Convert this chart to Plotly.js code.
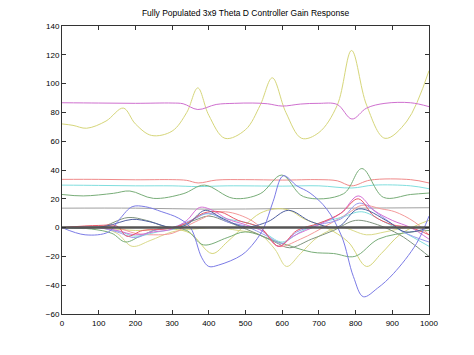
<!DOCTYPE html>
<html><head><meta charset="utf-8">
<script src="https://cdn.plot.ly/plotly-3.0.1.min.js"></script>
<style>html,body{margin:0;padding:0;background:#fff}#chart{width:474px;height:355px}</style>
</head><body><div id="chart"></div>
<script>
// ---- data ----
const yellowHiX = [0,30,67,120,167,200,244,300,340,370,400,444,500,540,573,610,653,700,750,789,830,880,940,1000];
const yellowHiY = [72,71,69,74,83,72,64,67,80,97,78,62,68,85,104,80,62,66,85,123,85,62,74,109];
const magentaHiX = [0,100,200,300,330,370,420,470,520,560,600,650,700,750,790,830,880,950,1000];
const magentaHiY = [86.7,86.5,86.3,86.5,86,82,85.5,86.3,86.5,86,84.4,85.8,86.3,85.5,75.4,83,86.3,86.7,84];
const redHiX = [0,100,200,300,340,371,420,500,600,700,750,789,840,950,1000];
const redHiY = [33.5,33.5,33.2,33.3,32.8,31,33,33.3,33,33.3,32.5,29,33,33.3,31];
const cyanHiX = [0,100,200,300,370,450,600,700,790,850,950,1000];
const cyanHiY = [29.5,29.3,29,29,28.5,29,28.8,29,27.5,29.5,29,27];
const greenHiX = [0,58,140,185,249,330,388,467,540,599,658,767,817,876,950,1000];
const greenHiY = [23,22,23.8,25.4,20.3,23.5,29.5,20.3,23.5,36.5,21.5,23.5,41,21,23,24];
const grayHiX = [0,200,400,600,800,1000];
const grayHiY = [13.5,13.5,12.8,13.2,13.5,13.8];
const blueBigX = [0,63,127,159,191,227,272,318,350,381,400,427,490,525,550,575,603,640,676,721,762,794,821,860,903,966,1000];
const blueBigY = [0,-5,-3,6.5,14.5,14.5,11,6.5,0,-21,-27,-26,-19,-10,0,18,36,29,24,13,-6,-34,-48,-42,-32,-11,8];
const navyX = [0,60,120,191,240,300,340,390,440,500,560,617,680,752,808,890,935,1000];
const navyY = [0,0,1,5.7,4,0,2,12,6,0.5,4,12,4,0.5,13,4,-3,0];
const yellowAX = [0,100,150,191,240,300,360,420,480,540,580,612,650,700,760,830,880,940,1000];
const yellowAY = [0,0,-4,-13,-9,-3,-1,0,-2,-5,-15,-27,-18,-6,0,-5,-3,0,0];
const yellowBX = [0,100,200,300,350,409,450,500,540,580,620,660,720,780,830,870,920,970,1000];
const yellowBY = [0,0,-2,-1,-4,-18,-10,2,10,13,12,6,0,-10,-27,-18,-5,2,5];
const greenLoX = [0,80,136,173,220,280,340,385,450,499,589,680,740,798,862,953,1000];
const greenLoY = [0,-1,-4,-10,-5,0,-2,-12,-7,-3,-10,-17,-18,-20,-8,-3,-2];
const oliveX = [0,100,180,230,300,360,400,450,520,580,620,680,740,800,860,920,960,1000];
const oliveY = [0,0,7,5,0,5,8,4,-3,-10,-14,-8,-2,5,2,-5,-12,-20];
const magentaLoX = [0,100,150,200,250,300,340,375,410,450,500,550,590,630,700,760,807,850,900,950,1000];
const magentaLoY = [0,0,-2,-5,-3,-1,5,14,12,6,2,-3,-13,-6,2,10,22,12,5,0,-8];
const redLoX = [0,100,150,177,220,280,340,385,430,480,540,591,640,700,760,807,850,900,950,1000];
const redLoY = [0,1.5,1,-6,-2,-1,3,10,11,5,0,-13,-2,3,10,20,8,2,0,-5];
const salmonX = [0,100,150,200,250,300,363,436,509,550,589,650,725,780,817,870,907,960,1000];
const salmonY = [0,1,0,-4,-5,-4,4,11,6,-2,-13,-8,2,10,15.5,13,11,4,-5];
const cyanLoX = [0,100,160,200,260,320,390,450,520,560,600,650,700,760,817,870,930,1000];
const cyanLoY = [0,0,-3,-6,-3,0,9.5,6,2,-5,-10,-3,3,7,11,5,-3,-13];
const periX = [0,100,150,200,250,300,360,400,450,500,560,600,640,700,760,810,870,930,1000];
const periY = [0,0,-3,-7,-2,0,6,10,4,1,-6,-11,-3,2,6,17,8,-3,-10];
const zeroX = [0,1000];
const zeroY = [0,0];

const series = [
  [yellowHiX, yellowHiY, '#d6d67a'],
  [magentaHiX, magentaHiY, '#cf70cf'],
  [redHiX, redHiY, '#f08a8a'],
  [cyanHiX, cyanHiY, '#80dede'],
  [greenHiX, greenHiY, '#78ad78'],
  [grayHiX, grayHiY, '#a0a0a0'],
  [yellowAX, yellowAY, '#dada8a'],
  [yellowBX, yellowBY, '#d6d67a'],
  [greenLoX, greenLoY, '#78ad78'],
  [oliveX, oliveY, '#7f947f'],
  [salmonX, salmonY, '#f49a9a'],
  [cyanLoX, cyanLoY, '#80dede'],
  [periX, periY, '#9a9aee'],
  [magentaLoX, magentaLoY, '#d670d6'],
  [redLoX, redLoY, '#e85a6a'],
  [navyX, navyY, '#5060a0'],
  [blueBigX, blueBigY, '#7b7be6']
];

const traces = series.map(s => ({
  x: s[0], y: s[1], type: 'scatter', mode: 'lines',
  line: {color: s[2], width: 1, shape: 'spline', smoothing: 1},
  hoverinfo: 'skip'
}));
traces.push({x: zeroX, y: zeroY, type: 'scatter', mode: 'lines',
  line: {color: '#555555', width: 2.5}, hoverinfo: 'skip'});

const axisCommon = {
  showgrid: false, zeroline: false, showline: true, linecolor: '#333', linewidth: 1,
  mirror: 'ticks', ticks: 'inside', ticklen: 4, tickcolor: '#333',
  tickfont: {family: 'Liberation Sans, Arial, sans-serif', size: 8, color: '#000'}
};

const layout = {
  width: 474, height: 355,
  margin: {l: 62, r: 45, t: 26, b: 41},
  paper_bgcolor: '#fff', plot_bgcolor: '#fff',
  showlegend: false,
  title: {text: 'Fully Populated 3x9 Theta D Controller Gain Response',
    font: {family: 'Liberation Sans, Arial, sans-serif', size: 8.5, color: '#000'},
    x: 0.518, xanchor: 'center', y: 0.962, yanchor: 'middle'},
  xaxis: Object.assign({}, axisCommon, {range: [0, 1000], dtick: 100, tick0: 0, ticklabelstandoff: 1}),
  yaxis: Object.assign({}, axisCommon, {range: [-60, 140], dtick: 20, tick0: 0})
};

Plotly.newPlot('chart', traces, layout, {staticPlot: true, displayModeBar: false});
</script></body></html>
